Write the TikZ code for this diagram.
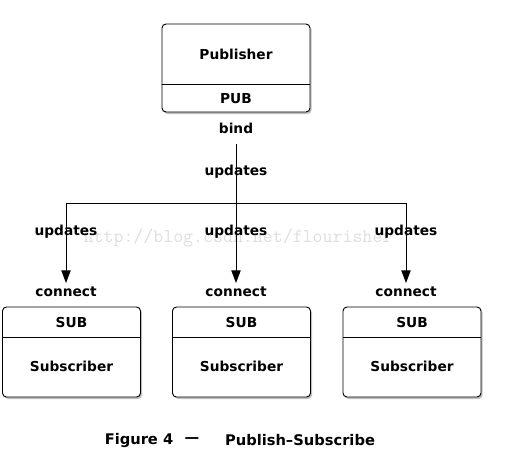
\documentclass[tikz,border=0pt]{standalone}
\usepackage{fontspec}
\setmainfont{DejaVu Sans}
\usetikzlibrary{arrows.meta}
\usetikzlibrary{shadows}

\tikzset{
  box/.style={draw,line width=0.7pt,rounded corners=3pt,fill=white,
    drop shadow={shadow xshift=1.2pt,shadow yshift=-1.5pt,fill=black!55,opacity=.45}},
  lbl/.style={font=\fontsize{10.3}{12}\bfseries\selectfont,inner sep=1pt},
  caption/.style={font=\fontsize{11}{13}\bfseries\selectfont,inner sep=1pt},
  feed/.style={line width=0.7pt,-{Triangle[length=9.5pt,width=7pt]}}
}

\begin{document}
\begin{tikzpicture}[x=0.75pt,y=-0.75pt]
			\useasboundingbox (0,0) rectangle (509,458);
			
			% watermark
			\node[font=\ttfamily\fontsize{14.5}{16}\selectfont,text=black!13] (mark) at (238,238) {http://blog.csdn.net/flourisher};
			
			% publisher
			\node[box,minimum width=111pt,minimum height=66pt] (pub) at (236,68) {};
			\coordinate (pubsplit) at (236,84);
			\draw[line width=0.7pt] (pub.west |- pubsplit) -- (pub.east |- pubsplit);
			\node[lbl] (pubname) at (236,54) {Publisher};
			\node[lbl] (pubport) at (236,99) {PUB};
			\node[lbl] (bind) at (236,128) {bind};
			
			% fan-out bus
			\coordinate (tap) at (236,144);
			\coordinate (busmid) at (236,203);
			\coordinate (busleft) at (66,203);
			\coordinate (busright) at (406,203);
			\draw[line width=0.7pt] (tap) -- (busmid);
			\draw[line width=0.7pt] (busleft) -- (busright);
			\node[lbl] (upd) at (236,172) {updates};
			
			% subscribers
			\foreach \n/\x/\bx in {a/66/71.5,b/236/241.5,c/406/412}{
				\coordinate (bus\n) at (\x,203);
				\coordinate (tip\n) at (\x,283);
				\draw[feed] (bus\n) -- (tip\n);
				\node[lbl] (upd\n) at (\x,232) {updates};
				\node[lbl] (conn\n) at (\x,292) {connect};
				\node[box,minimum width=103.5pt,minimum height=67.5pt] (sub\n) at (\bx,352) {};
				\coordinate (split\n) at (\bx,337);
				\draw[line width=0.7pt] (sub\n.west |- split\n) -- (sub\n.east |- split\n);
				\node[lbl] (port\n) at (\bx,322) {SUB};
				\node[lbl] (name\n) at (\bx,366) {Subscriber};
			}
			
			% caption
			\node[caption] (fig) at (139,440) {Figure 4};
			\node[caption] (dash) at (192,440) {—};
			\node[caption] (title) at (300,440) {Publish–Subscribe};
		\end{tikzpicture}
\end{document}
